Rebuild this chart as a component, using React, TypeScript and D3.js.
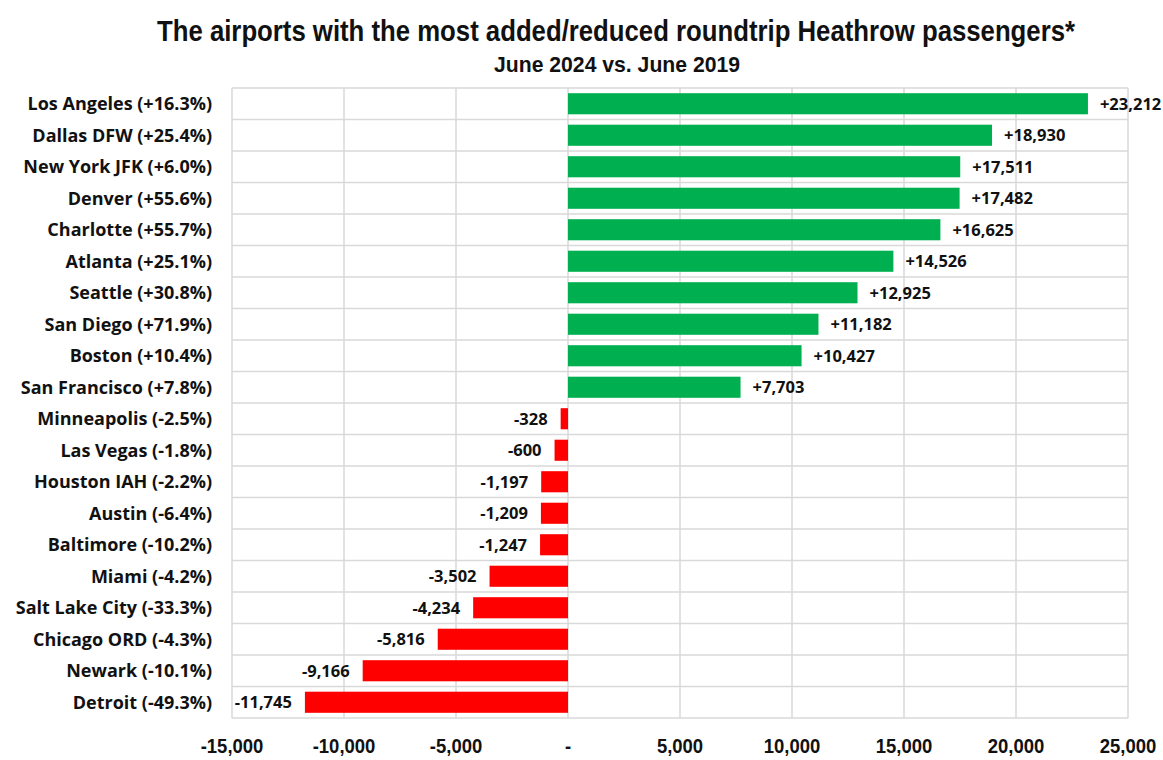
import React from "react";
import * as d3 from "d3";

const categories = [
  "Los Angeles (+16.3%)",
  "Dallas DFW (+25.4%)",
  "New York JFK (+6.0%)",
  "Denver (+55.6%)",
  "Charlotte (+55.7%)",
  "Atlanta (+25.1%)",
  "Seattle (+30.8%)",
  "San Diego (+71.9%)",
  "Boston (+10.4%)",
  "San Francisco (+7.8%)",
  "Minneapolis (-2.5%)",
  "Las Vegas (-1.8%)",
  "Houston IAH (-2.2%)",
  "Austin (-6.4%)",
  "Baltimore (-10.2%)",
  "Miami (-4.2%)",
  "Salt Lake City (-33.3%)",
  "Chicago ORD (-4.3%)",
  "Newark (-10.1%)",
  "Detroit (-49.3%)",
];
const values = [
  23212, 18930, 17511, 17482, 16625, 14526, 12925, 11182, 10427, 7703,
  -328, -600, -1197, -1209, -1247, -3502, -4234, -5816, -9166, -11745,
];
const tickValues = [-15000, -10000, -5000, 0, 5000, 10000, 15000, 20000, 25000];
const title = "The airports with the most added/reduced roundtrip Heathrow  passengers*";
const subtitle = "June 2024 vs. June 2019";

const W = 1163;
const H = 760;
const left = 232;
const right = 1128;
const top = 88;
const bottom = 718;

const narrow = "'Liberation Sans', Arial, sans-serif";
const labelFont = "'Open Sans', 'Noto Sans', sans-serif";

export default function App() {
  const x = d3.scaleLinear().domain([-15000, 25000]).range([left, right]);
  const y = d3.scaleBand<string>().domain(categories).range([top, bottom]).paddingInner(0.33).paddingOuter(0.165);
  const step = y.step();
  const fmt = (v: number) => d3.format(",")(v).replace("\u2212", "-");
  const tickFmt = (v: number) => (v === 0 ? "-" : fmt(v));

  return (
    <div style={{ position: "absolute", left: 0, top: 0 }}>
      <svg width={W} height={H} style={{ display: "block", background: "#fff" }}>
        <text transform="translate(616,41) scale(1,1.12)" textAnchor="middle" fontFamily={narrow} fontWeight={700} fontSize={26} fill="#111"
          textLength={918} lengthAdjust="spacingAndGlyphs">
          {title}
        </text>
        <text transform="translate(617,72) scale(1,1.1)" textAnchor="middle" fontFamily={narrow} fontWeight={700} fontSize={20} fill="#111"
          textLength={246} lengthAdjust="spacingAndGlyphs">
          {subtitle}
        </text>
        {/* grid */}
        {tickValues.map((t) => (
          <line key={"v" + t} x1={x(t)} x2={x(t)} y1={top} y2={bottom} stroke="#d9d9d9" strokeWidth={1.5} />
        ))}
        {d3.range(categories.length + 1).map((i) => (
          <line key={"h" + i} x1={left} x2={right} y1={top + i * step} y2={top + i * step} stroke="#d9d9d9" strokeWidth={1.5} />
        ))}
        {/* bars */}
        {categories.map((c, i) => {
          const v = values[i];
          const x0 = x(Math.min(0, v));
          const x1 = x(Math.max(0, v));
          return (
            <rect key={c} x={x0} y={y(c)} width={x1 - x0} height={y.bandwidth()} fill={v >= 0 ? "#00b050" : "#ff0000"} />
          );
        })}
        {/* value labels */}
        {categories.map((c, i) => {
          const v = values[i];
          const cy = (y(c) as number) + y.bandwidth() / 2;
          return (
            <text
              key={"l" + c}
              x={v >= 0 ? x(v) + 12 : x(v) - 13}
              y={cy}
              dy="0.36em"
              textAnchor={v >= 0 ? "start" : "end"}
              fontFamily={labelFont}
              fontWeight={700}
              fontSize={16.5}
              fill="#111"
            >
              {(v > 0 ? "+" : "") + fmt(v)}
            </text>
          );
        })}
        {/* category labels */}
        {categories.map((c) => (
          <text
            key={"c" + c}
            x={212}
            y={(y(c) as number) + y.bandwidth() / 2}
            dy="0.36em"
            textAnchor="end"
            fontFamily={labelFont}
            fontWeight={700}
            fontSize={18}
            fill="#111"
          >
            {c}
          </text>
        ))}
        {/* x tick labels */}
        {tickValues.map((t) => (
          <text key={"t" + t} transform={`translate(${x(t)},753) scale(0.88,1)`} textAnchor="middle" fontFamily={narrow} fontWeight={700} fontSize={21} fill="#111">
            {tickFmt(t)}
          </text>
        ))}
      </svg>
    </div>
  );
}
